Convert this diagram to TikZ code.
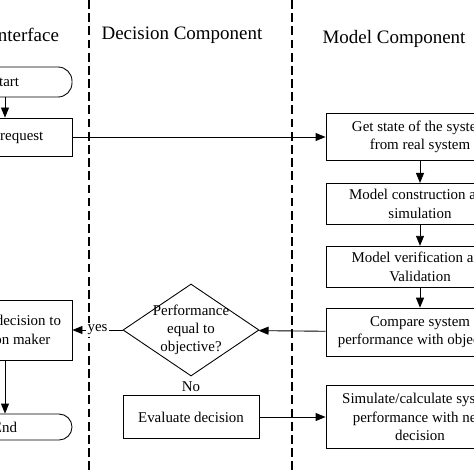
\documentclass[tikz,border=0pt]{standalone}
\usepackage{fontspec}
\setmainfont{Liberation Serif}
\usepackage{tikz}
\usetikzlibrary{shapes,shapes.geometric,arrows.meta,positioning}

\begin{document}
\begin{tikzpicture}[
        box/.style={rectangle, draw, line width=0.5pt, align=center, inner sep=1pt, font=\fontsize{8.5}{10.4}\selectfont},
        term/.style={box, rounded corners=0.28cm},
        decide/.style={diamond, draw, line width=0.5pt, align=center, aspect=1.48, inner sep=-1.6pt, minimum width=2.72cm, minimum height=1.84cm, font=\fontsize{8.5}{10.2}\selectfont},
        lanehead/.style={font=\fontsize{10.8}{12}\selectfont},
        lane/.style={line width=0.8pt, dash pattern=on 5pt off 2.5pt},
        arrow/.style={-{Triangle[length=0.2cm,width=0.16cm]}, line width=0.5pt}
    ]
        \useasboundingbox (0,0) rectangle (9.48,-9.48);
        \clip (0,0) rectangle (9.48,-9.48);

        % Lanes
        \draw[lane] (1.78,0) -- (1.78,-9.48);
        \draw[lane] (5.84,0) -- (5.84,-9.48);
        \node[lanehead] (userhead) at (0.10,-0.70) {User Interface};
        \node[lanehead] (dechead) at (3.64,-0.70) {Decision Component};
        \node[lanehead] (modhead) at (7.88,-0.78) {Model Component};

        % User interface
        \node[term, minimum width=2.68cm, minimum height=0.60cm] (start) at (0.10,-1.64) {Start};
        \node[box, minimum width=2.68cm, minimum height=0.76cm] (request) at (0.10,-2.74) {Send request};
        \node[box, minimum width=2.68cm, minimum height=1.20cm] (senddec) at (0.10,-6.60) {Submit decision to\\decision maker};
        \node[term, rounded corners=0.26cm, minimum width=2.68cm, minimum height=0.52cm] (end) at (0.10,-8.54) {End};

        % Decision component
        \node[decide] (perf) at (3.82,-6.60) {Performance\\equal to\\objective?};
        \node[font=\fontsize{8.5}{10.4}\selectfont] (no) at (3.82,-7.74) {No};
        \node[box, minimum width=2.72cm, minimum height=0.86cm] (eval) at (3.82,-8.34) {Evaluate decision};

        % Model component
        \node[box, minimum width=3.76cm, minimum height=0.94cm] (getstate) at (8.40,-2.74) {Get state of the system\\from real system};
        \node[box, minimum width=3.76cm, minimum height=0.82cm, below=0.44cm of getstate] (modcon) {Model construction and\\simulation};
        \node[box, minimum width=3.76cm, minimum height=0.82cm, below=0.42cm of modcon] (modver) {Model verification and\\Validation};
        \node[box, minimum width=3.76cm, minimum height=0.96cm, below=0.40cm of modver] (compare) {Compare system\\performance with objective};
        \node[box, minimum width=3.76cm, minimum height=1.26cm] (sim) at (8.40,-8.34) {Simulate/calculate system\\performance with new\\decision};

        % Arrows
        \draw[arrow] (start) -- (request);
        \draw[arrow] (request) -- (getstate);
        \draw[arrow] (getstate) -- (modcon);
        \draw[arrow] (modcon) -- (modver);
        \draw[arrow] (modver) -- (compare);
        \draw[arrow] (compare) -- (perf);
        \draw[arrow] (perf) -- node[midway, fill=white, inner sep=1pt, font=\fontsize{8.5}{10.4}\selectfont] {yes} (senddec);
        \draw[arrow] (senddec) -- (end);
        \draw[arrow] (eval) -- (sim);

    \end{tikzpicture}
\end{document}
